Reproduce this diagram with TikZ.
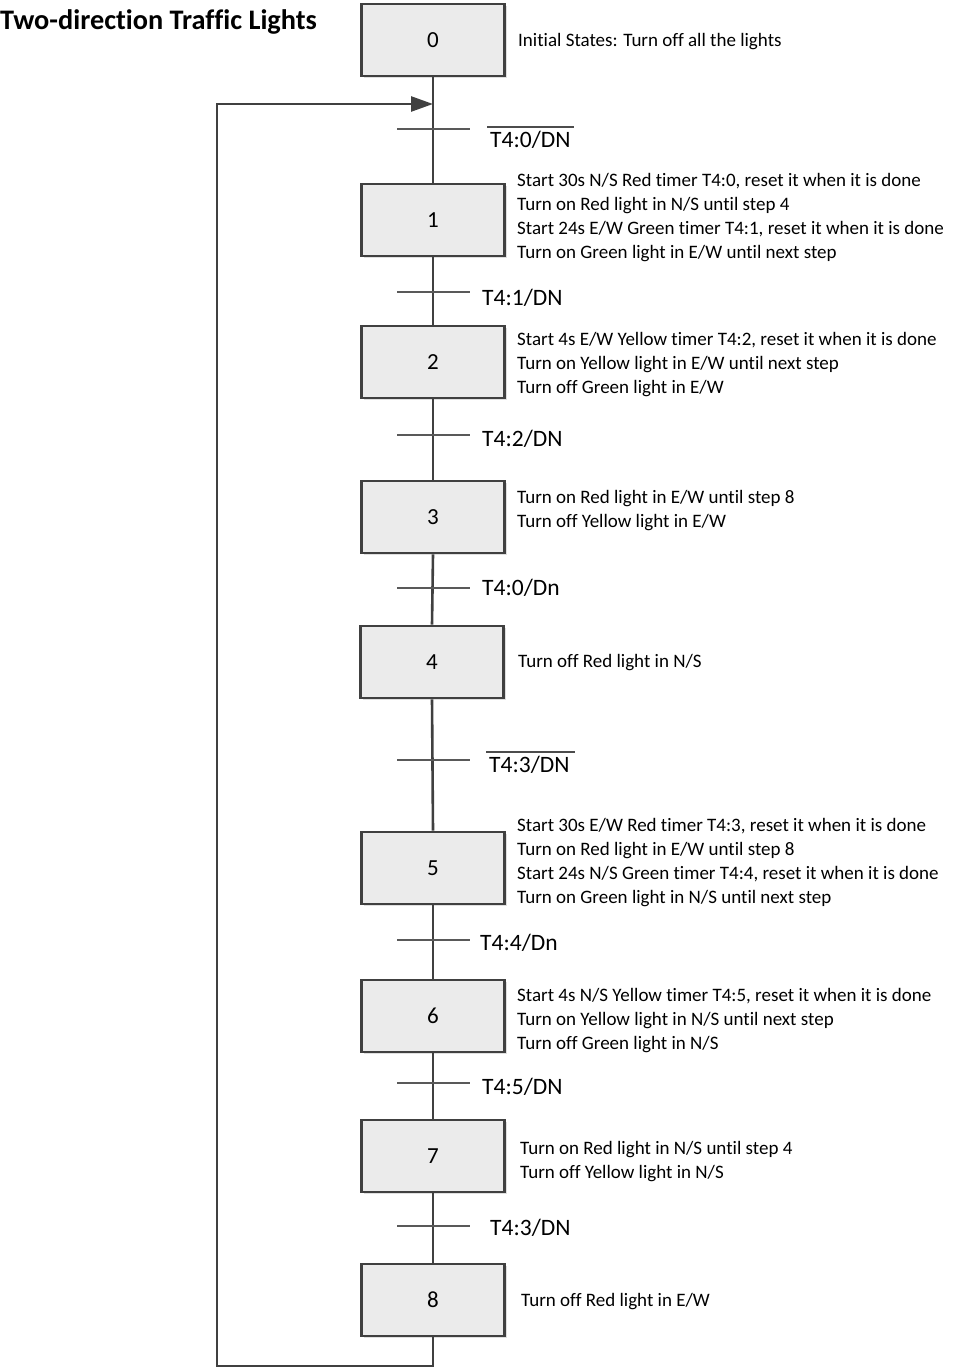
\documentclass[tikz,border=0pt]{standalone}
\usepackage{fontspec}
\setmainfont{Carlito}[Ligatures=NoCommon]
\usetikzlibrary{arrows.meta,shadows}
\begin{document}
\begin{tikzpicture}[x=1pt,y=-1pt,
  stepbox/.style={draw=black!75,line width=2.6pt,fill=black!8,minimum width=143pt,minimum height=72pt,inner sep=0pt,font=\fontsize{23}{26}\selectfont,
    drop shadow={opacity=0.25,shadow xshift=2pt,shadow yshift=-2pt}},
  desc/.style={anchor=west,align=left,inner sep=0pt,font=\fontsize{19}{24}\selectfont},
  tlabel/.style={anchor=west,inner sep=1pt,font=\fontsize{23.5}{26}\selectfont},
  flow/.style={draw=black!75,line width=2.6pt},
  bar/.style={draw=black!65,line width=2.6pt},
  ovl/.style={draw=black!70,line width=2pt}]
\useasboundingbox (0,0) rectangle (968,1372);
\node[anchor=west,inner sep=0pt,font=\fontsize{28.3}{30}\selectfont\bfseries] (title) at (0,22) {Two-direction Traffic Lights};
% steps
\node[stepbox] (s0) at (433,40) {0};
\node[stepbox] (s1) at (433,220) {1};
\node[stepbox] (s2) at (433,362) {2};
\node[stepbox] (s3) at (433,517) {3};
\node[stepbox] (s4) at (432,662) {4};
\node[stepbox] (s5) at (433,868) {5};
\node[stepbox] (s6) at (433,1016) {6};
\node[stepbox] (s7) at (433,1156) {7};
\node[stepbox] (s8) at (433,1300) {8};
% descriptions
\node[desc] (d0) at (518,42) {Initial States: Turn off all the lights};
\node[desc] (d1) at (517,218) {Start 30s N/S Red timer T4:0, reset it when it is done\\Turn on Red light in N/S until step 4\\Start 24s E/W Green timer T4:1, reset it when it is done\\Turn on Green light in E/W until next step};
\node[desc] (d2) at (517,365) {Start 4s E/W Yellow timer T4:2, reset it when it is done\\Turn on Yellow light in E/W until next step\\Turn off Green light in E/W};
\node[desc] (d3) at (517,511) {Turn on Red light in E/W until step 8\\Turn off Yellow light in E/W};
\node[desc] (d4) at (518,663) {Turn off Red light in N/S};
\node[desc] (d5) at (517,863) {Start 30s E/W Red timer T4:3, reset it when it is done\\Turn on Red light in E/W until step 8\\Start 24s N/S Green timer T4:4, reset it when it is done\\Turn on Green light in N/S until next step};
\node[desc] (d6) at (517,1021) {Start 4s N/S Yellow timer T4:5, reset it when it is done\\Turn on Yellow light in N/S until next step\\Turn off Green light in N/S};
\node[desc] (d7) at (520,1162) {Turn on Red light in N/S until step 4\\Turn off Yellow light in N/S};
\node[desc] (d8) at (521,1302) {Turn off Red light in E/W};
% flow lines
\coordinate (a1) at (433,104);
\coordinate (lp) at (217,1366);
\draw[flow] (s0) -- (s1);
\draw[flow] (s1) -- (s2);
\draw[flow] (s2) -- (s3);
\draw[flow] (s3.south) -- (s4.north);
\draw[flow] (s4.south) -- (s5.north);
\draw[flow] (s5) -- (s6);
\draw[flow] (s6) -- (s7);
\draw[flow] (s7) -- (s8);
\draw[flow,-{Triangle[length=22pt,width=15pt]}] (s8.south) |- (lp) |- (a1);
% transition bars
\foreach \n/\yy in {0/129,1/292,2/435,3/588,4/760,5/940,6/1083,7/1226}{
  \coordinate (t\n) at (433,\yy);
  \draw[bar] ([xshift=-36pt]t\n) -- ([xshift=37pt]t\n);
}
% transition labels
\node[tlabel] (l0) at (489,140) {T4:0/DN};
\draw[ovl] ([xshift=-2pt,yshift=3pt]l0.north west) -- ([xshift=2pt,yshift=3pt]l0.north east);
\node[tlabel] (l1) at (481,298) {T4:1/DN};
\node[tlabel] (l2) at (481,439) {T4:2/DN};
\node[tlabel] (l3) at (481,588) {T4:0/Dn};
\node[tlabel] (l4) at (488,765) {T4:3/DN};
\draw[ovl] ([xshift=-2pt,yshift=3pt]l4.north west) -- ([xshift=4pt,yshift=3pt]l4.north east);
\node[tlabel] (l5) at (479,943) {T4:4/Dn};
\node[tlabel] (l6) at (481,1087) {T4:5/DN};
\node[tlabel] (l7) at (489,1228) {T4:3/DN};
\end{tikzpicture}
\end{document}
